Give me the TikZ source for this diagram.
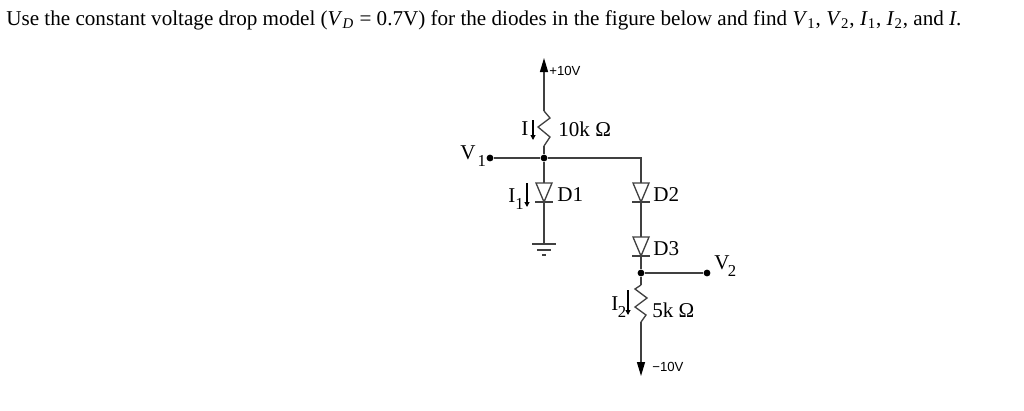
\documentclass[tikz,border=0pt]{standalone}
\usepackage{fontspec}
\setmainfont{Liberation Serif}
\setsansfont{Liberation Sans}
\usetikzlibrary{arrows.meta}
\tikzset{
	wire/.style={line width=0.75pt, draw=black!75},
	dot/.style={circle, fill=black, inner sep=0pt, minimum size=3.9pt},
	rail/.style={wire, -{Triangle[length=14*0.02cm, width=8*0.02cm, color=black]}},
	current/.style={line width=0.6pt, -{Triangle[length=5*0.02cm, width=5*0.02cm]}},
	lbl/.style={inner sep=0pt, font=\fontsize{12pt}{14pt}\selectfont},
	supply/.style={inner sep=0pt, font=\sffamily\fontsize{7.5pt}{9pt}\selectfont}
}
\newcommand{\sub}[1]{\textsubscript{#1}}
\newcommand{\drop}[3]{#2\hspace{#1}\raisebox{-4.2pt}{\fontsize{9.5pt}{11pt}\selectfont #3}}
\begin{document}
\begin{tikzpicture}[x=0.02cm, y=-0.02cm]
	\useasboundingbox (0,0) rectangle (1024,410);
	\node [anchor=base west, inner sep=0pt, font=\fontsize{12.02pt}{14pt}\selectfont] (question) at (6,25)
		{Use the constant voltage drop model (\textit{V}\sub{\textit{D}} = 0.7V) for the diodes in the figure below and find \textit{V}\sub{1}, \textit{V}\sub{2}, \textit{I}\sub{1}, \textit{I}\sub{2}, and \textit{I}.};

	\coordinate (top) at (544,58);
	\coordinate (r1a) at (544,111);
	\coordinate (r1b) at (544,146);
	\node [dot] (j1) at (544,158) {};
	\node [dot] (v1) at (490,158) {};
	\coordinate (corner) at (641,158);
	\coordinate (gnd) at (544,244);
	\node [dot] (j2) at (641,273) {};
	\node [dot] (v2) at (707,273) {};
	\coordinate (r2a) at (641,285);
	\coordinate (r2b) at (641,322);
	\coordinate (bottom) at (641,376);

	\draw [rail] (r1a) -- (top);
	\draw [wire] (r1a) -- ++(6,7) -- ++(-12,9) -- ++(12,10) -- (r1b);
	\draw [wire] (r1b) -- (j1);
	\draw [wire] (v1) -- (j1);
	\draw [wire] (j1) -- (corner) -- (j2);
	\draw [wire] (j1) -- (gnd);
	\draw [wire] (j2) -- (v2);
	\draw [wire] (j2) -- (r2a);
	\draw [wire] (r2a) -- ++(-6,4) -- ++(12,9) -- ++(-12,9) -- ++(11,8) -- (r2b);
	\draw [rail] (r2b) -- (bottom);

	% diodes
	\foreach \name/\x/\y in {d1/544/183, d2/641/183, d3/641/237} {
		\coordinate (\name) at (\x,\y);
		\draw [wire, fill=white] (\name) ++(-8,0) -- ++(16,0) -- ++(-8,19) -- cycle;
		\draw [wire] (\name) ++(-9,19) -- ++(18,0);
	}

	% ground
	\draw [wire] (gnd) ++(-12,0) -- ++(24,0);
	\draw [wire] (gnd) ++(-7,6) -- ++(14,0);
	\draw [wire] (gnd) ++(-2,11) -- ++(4,0);

	% currents
	\coordinate (ia) at (533,120);
	\coordinate (ib) at (533,140);
	\draw [current] (ia) -- (ib);
	\coordinate (i1a) at (527,183);
	\coordinate (i1b) at (527,207);
	\draw [current] (i1a) -- (i1b);
	\coordinate (i2a) at (628,290);
	\coordinate (i2b) at (628,315);
	\draw [current] (i2a) -- (i2b);

	\node [supply, anchor=west] (plus) at (549,71) {+10V};
	\node [supply, anchor=west] (minus) at (652,367) {−10V};
	\node [lbl, anchor=west] (r1) at (558,129) {10k Ω};
	\node [lbl, anchor=west] (r2) at (652,310) {5k Ω};
	\node [lbl, anchor=base west] (li) at (521,135) {I};
	\node [lbl, anchor=base west] (li1) at (508,202) {\drop{0pt}{I}{1}};
	\node [lbl, anchor=base west] (li2) at (611,310) {\drop{-0.3pt}{I}{2}};
	\node [lbl, anchor=base west] (lv1) at (460,159) {\drop{1.2pt}{V}{1}};
	\node [lbl, anchor=base west] (lv2) at (714,269) {\drop{-1pt}{V}{2}};
	\node [lbl, anchor=west] (ld1) at (557,195) {D1};
	\node [lbl, anchor=west] (ld2) at (653,195) {D2};
	\node [lbl, anchor=west] (ld3) at (653,249) {D3};
\end{tikzpicture}
\end{document}
